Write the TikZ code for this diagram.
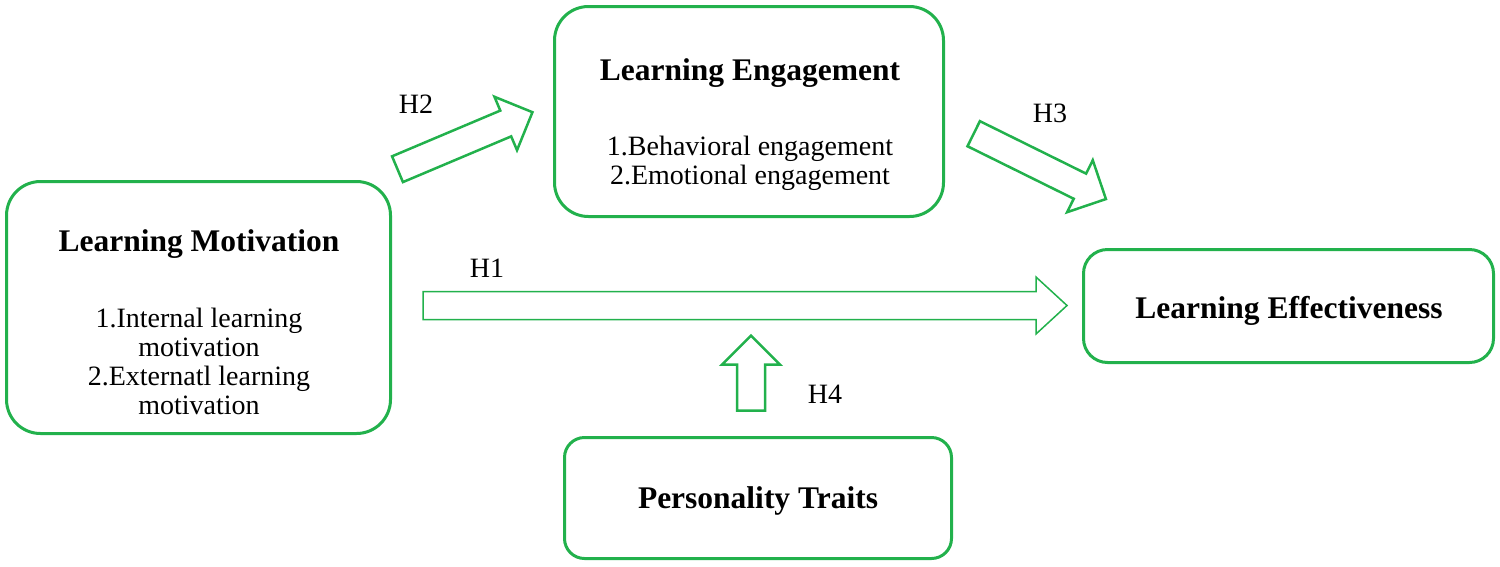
\documentclass[tikz,border=0pt]{standalone}
\usepackage{fontspec}
\setmainfont{Liberation Serif}
\definecolor{grn}{RGB}{34,177,76}
\tikzset{
  box/.style={draw=grn, line width=3pt, rounded corners=34pt, fill=white},
  ttl/.style={font=\fontsize{31.5}{36}\selectfont\bfseries, inner sep=0pt},
  itm/.style={font=\fontsize{28}{29}\selectfont, align=center, inner sep=0pt},
  hlab/.style={font=\fontsize{28}{30}\selectfont, inner sep=0pt, anchor=base},
  arrowline/.style={draw=grn, line width=2.5pt, line join=miter},
  pics/barrow/.style={code={
    \draw[arrowline] (0,-14) -- (#1-29,-14) -- (#1-29,-29) -- (#1,0) -- (#1-29,29) -- (#1-29,14) -- (0,14) -- cycle;
  }},
}
\begin{document}
\begin{tikzpicture}[x=1pt,y=-1pt]
\useasboundingbox (0,0) rectangle (1500,566);
% boxes
\node[box, minimum width=384pt, minimum height=252pt] (mot) at (198.5,307.5) {};
\node[box, minimum width=389pt, minimum height=210pt] (eng) at (749,111.5) {};
\node[box, rounded corners=24pt, minimum width=410pt, minimum height=113pt] (eff) at (1288.5,306) {};
\node[box, rounded corners=20pt, minimum width=387pt, minimum height=121pt] (per) at (758,498) {};
% texts
\node[ttl, anchor=base] (motT) at (199,251) {Learning Motivation};
\node[itm] (motI) at (199,361) {1.Internal learning\\motivation\\2.Externatl learning\\motivation};
\node[ttl, anchor=base] (engT) at (750,80) {Learning Engagement};
\node[itm] (engI) at (750,163) {1.Behavioral engagement\\2.Emotional engagement};
\node[ttl, anchor=base] (effT) at (1289,318) {Learning Effectiveness};
\node[ttl, anchor=base] (perT) at (758,508) {Personality Traits};
% arrows
\pic[rotate=22.9] at (397.5,169.2) {barrow=146.5};
\pic[rotate=-26.3] at (973.7,133.7) {barrow=147.5};
\pic[rotate=90] at (751,410.7) {barrow=75};
\draw[draw=grn, line width=1.5pt] (423,291.5) -- (1036,291.5) -- (1036,277) -- (1067,305.5) -- (1036,334) -- (1036,319.5) -- (423,319.5) -- cycle;
% labels
\node[hlab] (h1) at (487,277) {H1};
\node[hlab] (h2) at (416,113) {H2};
\node[hlab] (h3) at (1050,122) {H3};
\node[hlab] (h4) at (825,403) {H4};
\end{tikzpicture}
\end{document}
